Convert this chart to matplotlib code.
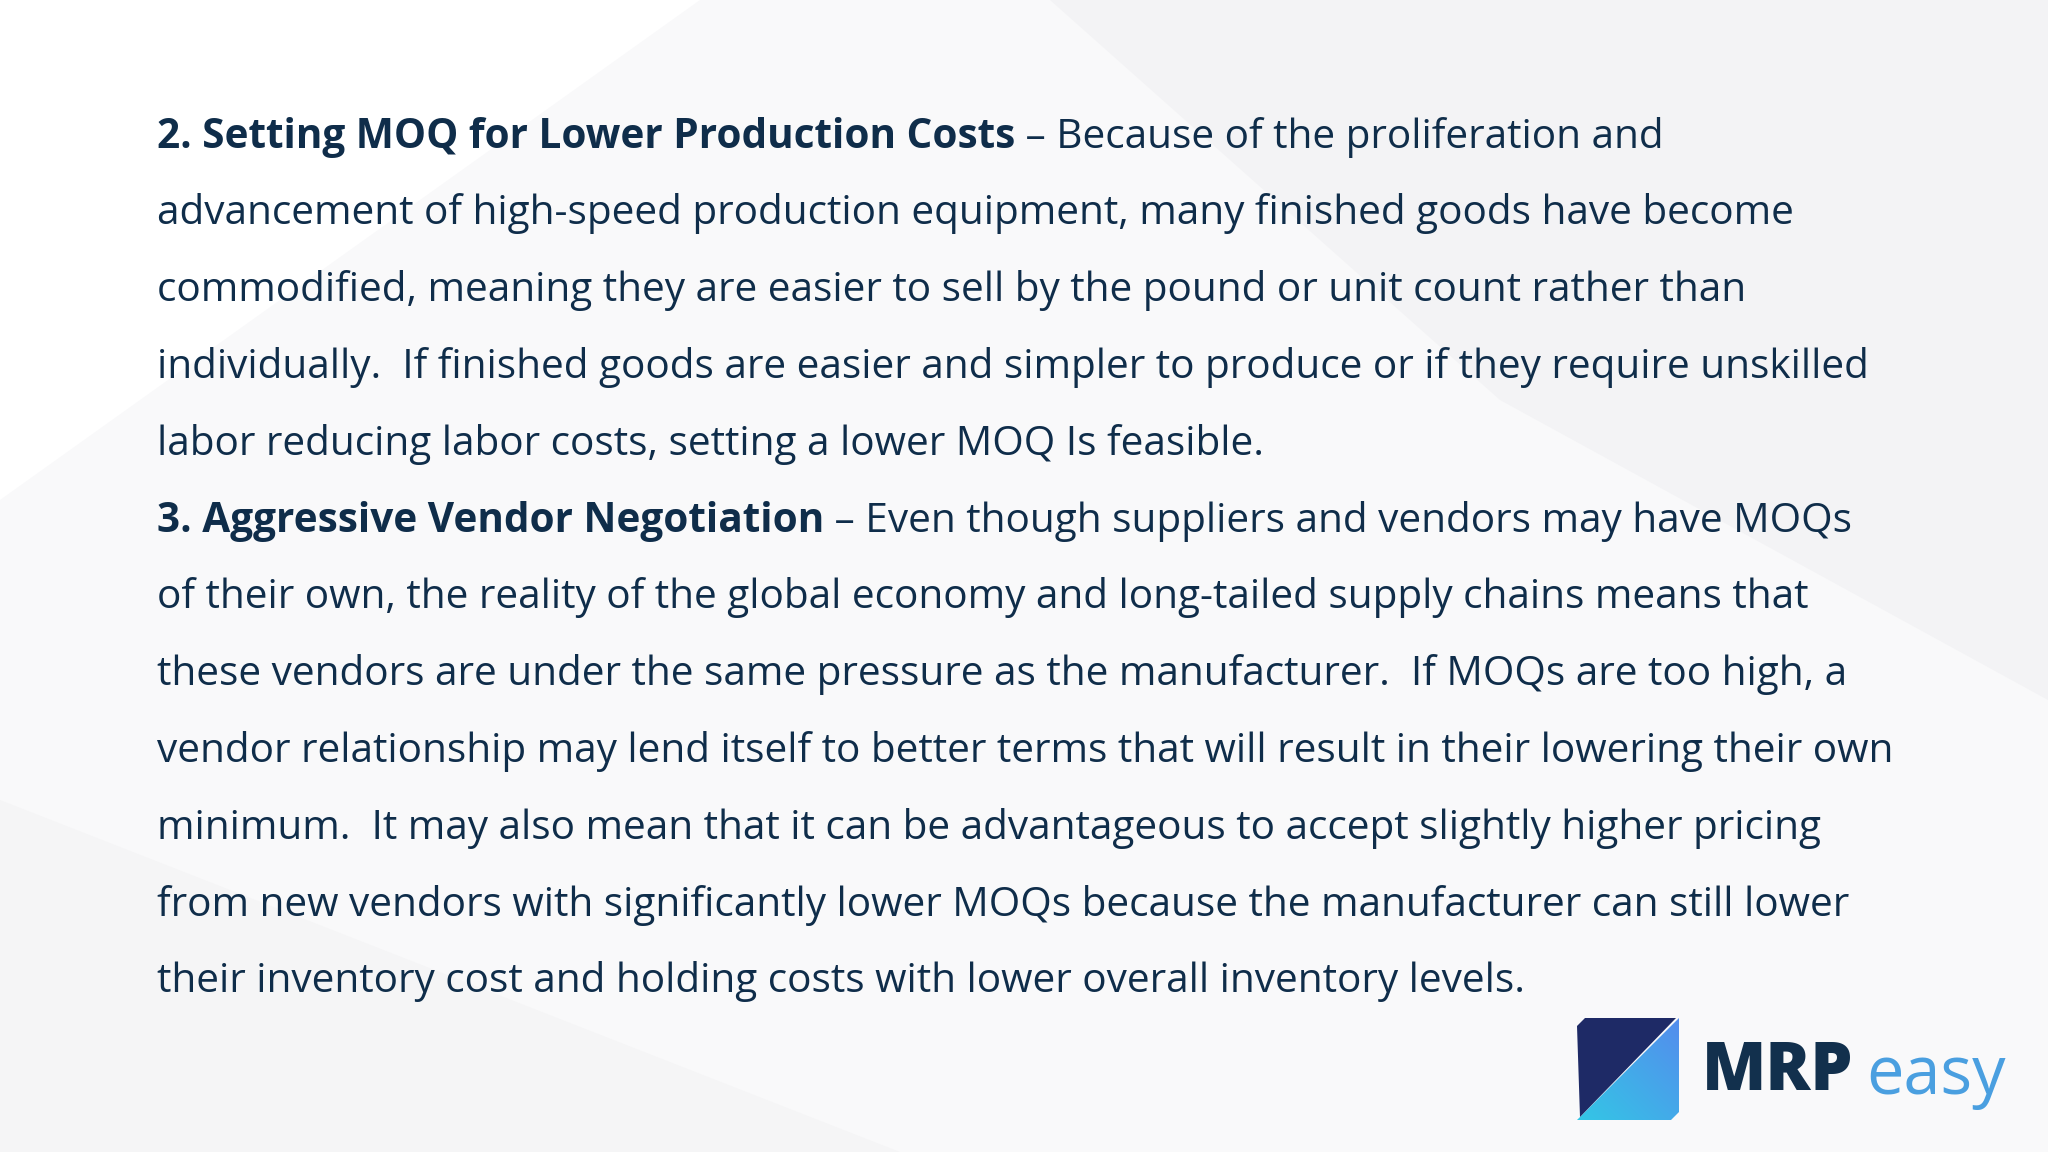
import matplotlib.pyplot as plt
import numpy as np
from matplotlib.patches import Polygon

W, H = 2048, 1152
navy = "#0f2d4a"

# (bold lead, rest of line) for each line of the slide
lines = [
    ("2. Setting MOQ for Lower Production Costs", " – Because of the proliferation and"),
    ("", "advancement of high-speed production equipment, many finished goods have become"),
    ("", "commodified, meaning they are easier to sell by the pound or unit count rather than"),
    ("", "individually.  If finished goods are easier and simpler to produce or if they require unskilled"),
    ("", "labor reducing labor costs, setting a lower MOQ Is feasible."),
    ("3. Aggressive Vendor Negotiation", " – Even though suppliers and vendors may have MOQs"),
    ("", "of their own, the reality of the global economy and long-tailed supply chains means that"),
    ("", "these vendors are under the same pressure as the manufacturer.  If MOQs are too high, a"),
    ("", "vendor relationship may lend itself to better terms that will result in their lowering their own"),
    ("", "minimum.  It may also mean that it can be advantageous to accept slightly higher pricing"),
    ("", "from new vendors with significantly lower MOQs because the manufacturer can still lower"),
    ("", "their inventory cost and holding costs with lower overall inventory levels."),
]

fig = plt.figure(figsize=(W / 100, H / 100), dpi=100)
ax = fig.add_axes([0, 0, 1, 1])
ax.set_xlim(0, W)
ax.set_ylim(H, 0)
ax.axis("off")

# soft background with faint facets
fig.patch.set_facecolor("#f9f9fa")
ax.add_patch(Polygon([[1050, 0], [W, 0], [W, 700], [1500, 400]], closed=True,
                     facecolor="#f3f3f5", edgecolor="none", zorder=0))
ax.add_patch(Polygon([[0, 0], [700, 0], [0, 500]], closed=True,
                     facecolor="#ffffff", edgecolor="none", zorder=0))
ax.add_patch(Polygon([[0, 800], [900, 1152], [0, 1152]], closed=True,
                     facecolor="#f5f5f6", edgecolor="none", zorder=0))

fs = 29.2
x0, y0, dy = 157, 137, 76.8
fig.canvas.draw()
rend = fig.canvas.get_renderer()
inv = ax.transData.inverted()
for i, (b, r) in enumerate(lines):
    y = y0 + i * dy
    x = x0
    if b:
        t = ax.text(x, y, b, fontsize=fs, fontweight="bold", family="Open Sans",
                    color=navy, va="center", ha="left")
        bb = t.get_window_extent(renderer=rend)
        x = inv.transform((bb.x1, bb.y0))[0]
    ax.text(x, y, r, fontsize=fs, family="Open Sans", color=navy,
            va="center", ha="left")

# logo: square split diagonally, navy and blue gradient
lx, ly, ls = 1577, 1018, 102
grad = np.linspace(0, 1, 200)
gx, gy = np.meshgrid(grad, grad)
t = (1 - gx + gy) / 2
c1 = np.array([0.33, 0.55, 0.93])
c2 = np.array([0.2, 0.78, 0.9])
img = c1[None, None, :] * (1 - t[..., None]) + c2[None, None, :] * t[..., None]
im = ax.imshow(img, extent=[lx, lx + ls, ly + ls, ly], zorder=2)
clip = Polygon([[lx + ls, ly], [lx + ls, ly + ls - 8], [lx + ls - 8, ly + ls], [lx, ly + ls]],
               closed=True, transform=ax.transData)
im.set_clip_path(clip)
ax.add_patch(Polygon([[lx + 8, ly], [lx + ls - 3, ly], [lx + 3, ly + ls - 3], [lx, ly + 8]],
                     closed=True, facecolor="#1e2a66", edgecolor="none", zorder=3))
ax.set_xlim(0, W)
ax.set_ylim(H, 0)
ax.text(1702, 1072, "MRP", fontsize=48, fontweight="heavy", family="Open Sans",
        color="#12304d", va="center", ha="left")
ax.text(1866, 1076, "easy", fontsize=48, family="Open Sans",
        color="#4a9fe0", va="center", ha="left")

fig.savefig("out.png", dpi=100, facecolor=fig.get_facecolor())
